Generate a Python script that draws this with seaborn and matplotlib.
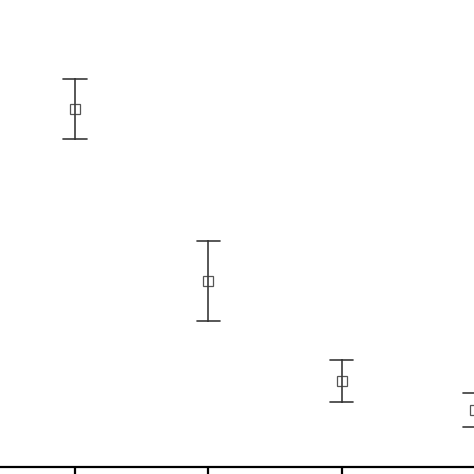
import pandas as pd
import numpy as np
import seaborn as sns
import matplotlib
matplotlib.use("Agg")
import matplotlib.pyplot as plt

# values (arbitrary units, spine = 0)
groups = ["A", "B", "C", "D"]
means = [3.58, 1.86, 0.86, 0.57]
errs = [0.30, 0.40, 0.21, 0.17]

# long form: two rows per group (low / high end of the bar)
rows = []
for g, m, e in zip(groups, means, errs):
    rows.append({"group": g, "value": m - e})
    rows.append({"group": g, "value": m + e})
df = pd.DataFrame(rows)

sns.set_style("white")
fig = plt.figure(figsize=(4.74, 4.74), dpi=100)
ax = fig.add_axes([0, 7.3 / 474, 1, 1 - 7.3 / 474])

sns.pointplot(data=df, x="group", y="value", estimator="mean",
              errorbar=lambda v: (v.min(), v.max()),
              color="#3a3a3a", markers="s", linestyle="none",
              capsize=0.175, err_kws={"linewidth": 1.2},
              markersize=7.8, markerfacecolor="white",
              markeredgecolor="#555555", markeredgewidth=0.9, ax=ax)

ax.set_xlim(-0.5625, 2.993)
ax.set_ylim(0, 4.667)
ax.set_xlabel("")
ax.set_ylabel("")
ax.set_xticklabels([])
ax.set_yticks([])
for s in ["top", "left", "right"]:
    ax.spines[s].set_visible(False)
ax.spines["bottom"].set_linewidth(1.6)
ax.spines["bottom"].set_color("black")
ax.tick_params(axis="x", direction="out", length=8, width=1.6, color="black", bottom=True)

fig.savefig("out.png", dpi=100)
